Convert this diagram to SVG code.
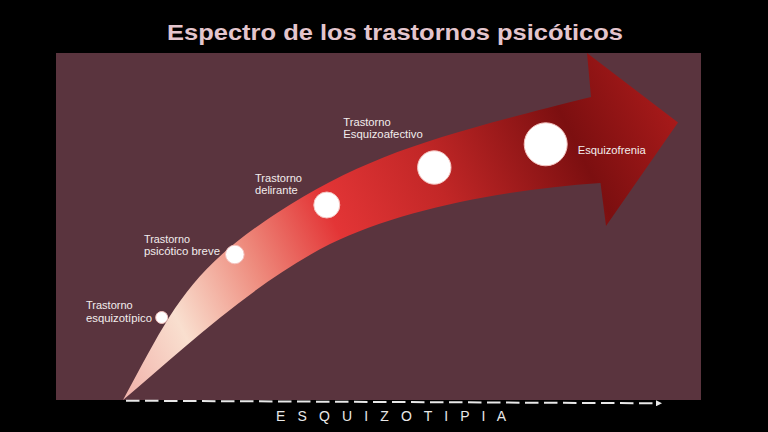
<svg xmlns="http://www.w3.org/2000/svg" width="768" height="432" viewBox="0 0 768 432">
<defs>
<style>
.lbl{font-family:"Liberation Sans",Arial,sans-serif;font-size:11px;fill:#f2eded}
.dot{fill:#ffffff;stroke:#f4c4c0;stroke-width:1}
.ttl{font-family:"Liberation Sans",Arial,sans-serif;font-size:22px;font-weight:bold;fill:#e3c5cd}
.axl{font-family:"Liberation Sans",Arial,sans-serif;font-size:14px;fill:#e8e8e8}
</style>
<linearGradient id="g" gradientUnits="userSpaceOnUse" x1="130" y1="390" x2="680" y2="120">
<stop offset="0" stop-color="#f2b6ae"/>
<stop offset="0.12" stop-color="#f9dfcf"/>
<stop offset="0.27" stop-color="#ee8c7e"/>
<stop offset="0.42" stop-color="#e33536"/>
<stop offset="0.6" stop-color="#c22727"/>
<stop offset="0.83" stop-color="#7c0f10"/>
<stop offset="1" stop-color="#a81a1a"/>
</linearGradient>
<marker id="ah" viewBox="0 0 6 6" refX="1" refY="3" markerWidth="6" markerHeight="6" markerUnits="userSpaceOnUse" orient="auto">
<path d="M0,0 L6,3 L0,6 Z" fill="#e8e8e8"/>
</marker>
</defs>
<rect x="0" y="0" width="768" height="432" fill="#000000"/>
<rect x="56" y="53" width="645" height="347" fill="#5a343e"/>
<text class="ttl" x="167" y="39.5" textLength="456" lengthAdjust="spacingAndGlyphs">Espectro de los trastornos psicóticos</text>
<g id="arrow">
<path d="M123,400 C172,310 187,272 277,213 C367,154 441,134.5 591,97 L587,53 L678,122.5 L606,226 L600.5,183 C500,190 400,210 330,244 C250,285 180,352 123,400 Z" fill="url(#g)"/>
</g>
<g id="connectors">
<path d="M126,400.7 L657,403.3" stroke="#e8e8e8" stroke-width="2" fill="none" stroke-dasharray="13.5 5.5" marker-end="url(#ah)"/>
</g>
<g id="n-esquizotipico">
<circle class="dot" cx="161.7" cy="317.5" r="6"/>
<text class="lbl" x="86" y="309.3" textLength="46.7" lengthAdjust="spacingAndGlyphs">Trastorno</text>
<text class="lbl" x="86" y="321.5" textLength="66" lengthAdjust="spacingAndGlyphs">esquizotípico</text>
</g>
<g id="n-breve">
<circle class="dot" cx="234.8" cy="254.5" r="9.3"/>
<text class="lbl" x="144" y="243" textLength="46" lengthAdjust="spacingAndGlyphs">Trastorno</text>
<text class="lbl" x="144" y="255.3" textLength="76" lengthAdjust="spacingAndGlyphs">psicótico breve</text>
</g>
<g id="n-delirante">
<circle class="dot" cx="326.8" cy="205" r="13"/>
<text class="lbl" x="255" y="182.3" textLength="47" lengthAdjust="spacingAndGlyphs">Trastorno</text>
<text class="lbl" x="255" y="194.3" textLength="42.7" lengthAdjust="spacingAndGlyphs">delirante</text>
</g>
<g id="n-esquizoafectivo">
<circle class="dot" cx="434.3" cy="167.5" r="16.7"/>
<text class="lbl" x="343.3" y="126.3" textLength="47.4" lengthAdjust="spacingAndGlyphs">Trastorno</text>
<text class="lbl" x="343.3" y="138.3" textLength="79.4" lengthAdjust="spacingAndGlyphs">Esquizoafectivo</text>
</g>
<g id="n-esquizofrenia">
<circle class="dot" cx="545.7" cy="144.3" r="21.5"/>
<text class="lbl" x="577.7" y="153.5" textLength="68" lengthAdjust="spacingAndGlyphs">Esquizofrenia</text>
</g>
<text class="axl" x="276" y="420.7" textLength="230" lengthAdjust="spacing">E S Q U I Z O T I P I A</text>
</svg>
